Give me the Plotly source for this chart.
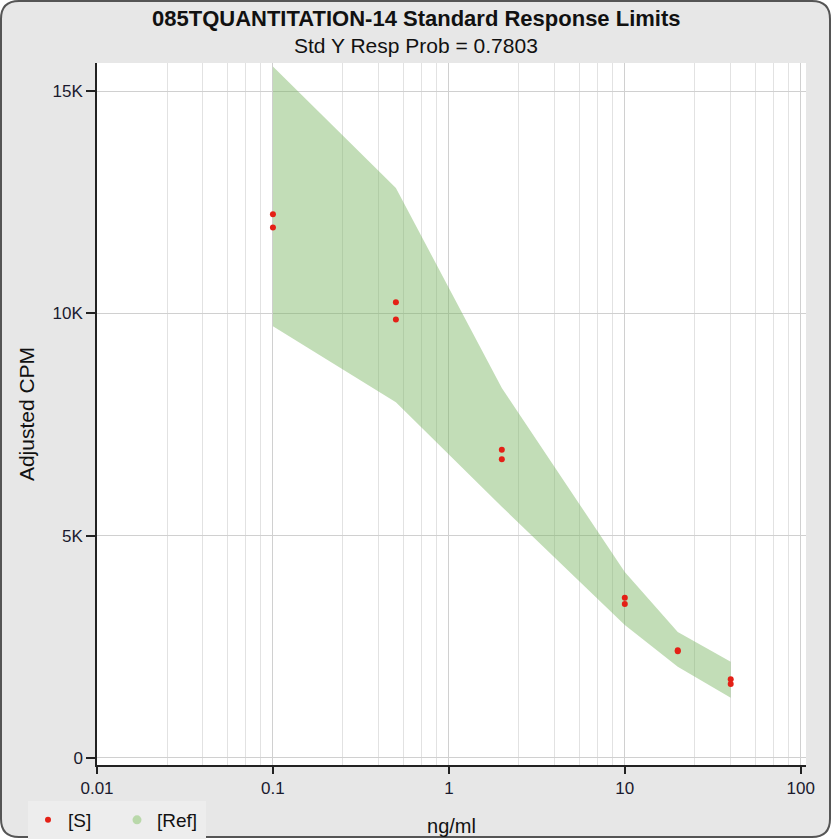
import plotly.graph_objects as go

# standard concentrations (ng/ml) and the response limit band
conc = [0.1, 0.5, 2, 10, 20, 40]
upper_limit = [15550, 12820, 8320, 4180, 2830, 2160]
lower_limit = [9710, 8000, 5650, 2990, 2050, 1350]

# measured standards (duplicates)
std_conc = [0.1, 0.1, 0.5, 0.5, 2, 2, 10, 10, 20, 20, 40, 40]
std_cpm = [12230, 11930, 10250, 9860, 6930, 6720, 3600, 3460, 2420, 2400, 1770, 1660]

x_ticks = [0.01, 0.1, 1, 10, 100]
x_labels = ["0.01", "0.1", "1", "10", "100"]
y_ticks = [0, 5000, 10000, 15000]
y_labels = ["0", "5K", "10K", "15K"]

title = "085TQUANTITATION-14 Standard Response Limits"
subtitle = "Std Y Resp Prob = 0.7803"

FONT = "Liberation Sans, Arial, sans-serif"
GREEN = "rgba(120,180,95,0.45)"
RED = "rgb(228,32,22)"

fig = go.Figure()

fig.add_trace(go.Scatter(
    x=conc + conc[::-1],
    y=upper_limit + lower_limit[::-1],
    fill="toself", fillcolor=GREEN, mode="none",
    showlegend=False, hoverinfo="skip",
))
fig.add_trace(go.Scatter(
    x=std_conc, y=std_cpm, mode="markers", name="[S]",
    marker=dict(color=RED, size=6),
))
fig.add_trace(go.Scatter(
    x=[None], y=[None], mode="markers", name="[Ref]",
    marker=dict(color="rgb(185,216,170)", size=9),
))

# the original chart puts minor grid lines at 2.5, 4, 5.5, 7, 8.5 per decade
minor_vals = [m * 10 ** e for e in range(-2, 2) for m in (2.5, 4, 5.5, 7, 8.5)]

fig.update_xaxes(
    type="log", range=[-2, 2.03], automargin=False,
    tickvals=x_ticks, ticktext=x_labels,
    ticks="outside", ticklen=7, tickcolor="#222", tickwidth=1.5,
    showline=True, linecolor="#222", linewidth=1.5,
    showgrid=True, gridcolor="#d0d0d0", gridwidth=1,
    minor=dict(tickvals=minor_vals, showgrid=True, gridcolor="#e2e2e2", ticks=""),
    tickfont=dict(size=17, color="#1a1a2e"),
    title=dict(text="ng/ml", font=dict(size=20, color="#111"), standoff=22),
    zeroline=False,
)
fig.update_yaxes(
    range=[-160, 15630], automargin=False,
    tickvals=y_ticks, ticktext=y_labels,
    ticks="outside", ticklen=9, tickcolor="#222", tickwidth=1.5,
    showline=True, linecolor="#222", linewidth=1.5,
    showgrid=True, gridcolor="#d0d0d0", gridwidth=1,
    tickfont=dict(size=17, color="#1a1a2e"),
    title=dict(text="Adjusted CPM", font=dict(size=21, color="#111"), standoff=12),
    zeroline=False,
)

# rounded grey frame and white plot area (paper coords)
l, r, t, b = 97, 26, 63, 75
W, H = 832, 840
pw, ph = W - l - r, H - t - b


def px(x):
    return (x - l) / pw


def py(y):
    return (H - b - y) / ph


x0, x1, y0, y1 = px(1), px(830), py(837), py(1)
rx, ry = 18 / pw, 18 / ph
frame = (f"M {x0+rx},{y1} L {x1-rx},{y1} Q {x1},{y1} {x1},{y1-ry} "
         f"L {x1},{y0+ry} Q {x1},{y0} {x1-rx},{y0} L {x0+rx},{y0} "
         f"Q {x0},{y0} {x0},{y0+ry} L {x0},{y1-ry} Q {x0},{y1} {x0+rx},{y1} Z")
fig.add_shape(type="path", path=frame, xref="paper", yref="paper",
              fillcolor="#e7e7e7", line=dict(color="#555", width=2), layer="below")
fig.add_shape(type="rect", x0=0, x1=1, y0=0, y1=1, xref="paper", yref="paper",
              fillcolor="white", line=dict(width=0), layer="below")

fig.add_annotation(text=f"<b>{title}</b>", xref="paper", yref="paper",
                   x=px(416), y=py(18), yanchor="middle", showarrow=False,
                   font=dict(size=22, color="#111"))
fig.add_annotation(text=subtitle, xref="paper", yref="paper",
                   x=px(416), y=py(45), yanchor="middle", showarrow=False,
                   font=dict(size=21, color="#111"))

fig.update_layout(
    width=W, height=H,
    margin=dict(l=l, r=r, t=t, b=b, autoexpand=False),
    paper_bgcolor="white", plot_bgcolor="white",
    font=dict(family=FONT),
    legend=dict(orientation="h", x=px(28), y=py(801), xanchor="left", yanchor="top",
                bgcolor="#ededed", font=dict(size=19, color="#111"),
                itemwidth=30, entrywidth=44, tracegroupgap=0),
)

fig.write_html("out.html", config={"displayModeBar": False},
               post_script="document.body.style.margin='0px';")
